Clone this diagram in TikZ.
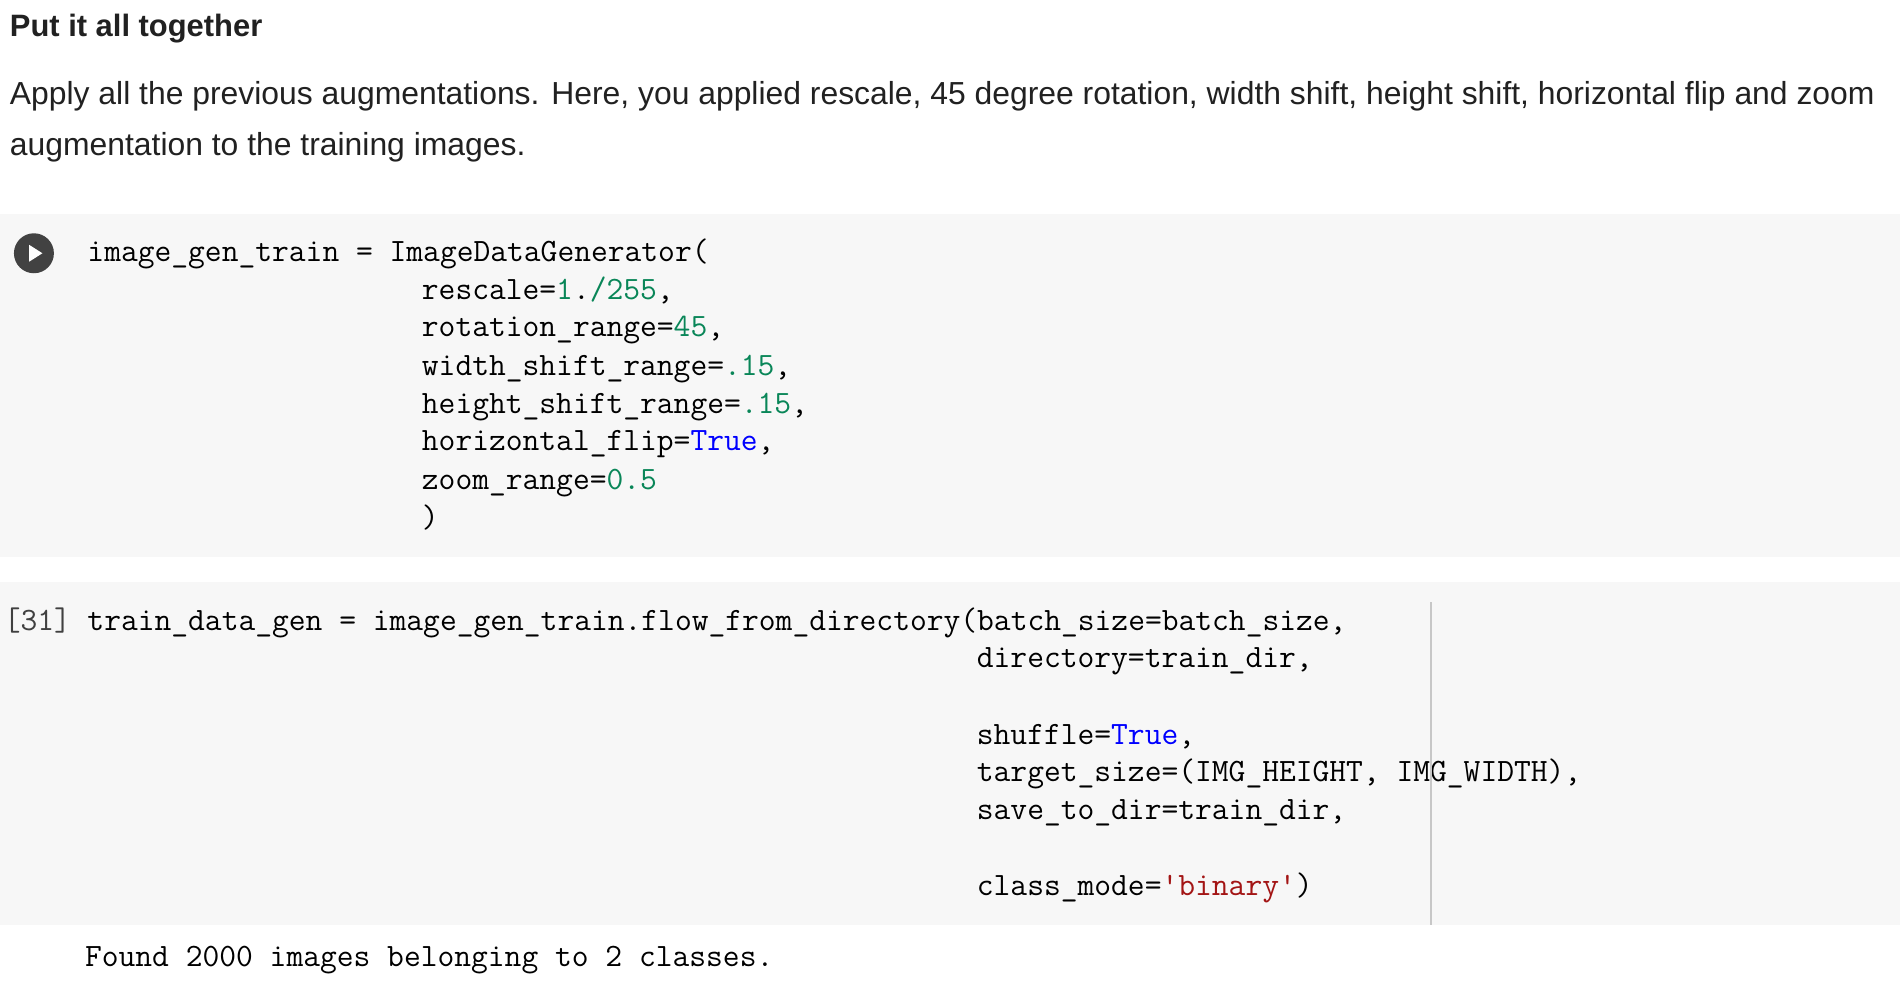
\documentclass[tikz,border=0pt]{standalone}
\usepackage{fontspec}
\usetikzlibrary{calc}
\setmainfont{Liberation Sans}
\definecolor{cellbg}{HTML}{F7F7F7}
\definecolor{num}{HTML}{098658}
\definecolor{kw}{HTML}{0000FF}
\definecolor{str}{HTML}{A31515}
\definecolor{playc}{HTML}{424242}
\newcommand{\N}[1]{\textcolor{num}{#1}}
\newcommand{\K}[1]{\textcolor{kw}{#1}}
\newcommand{\St}[1]{\textcolor{str}{#1}}
\begin{document}
\begin{tikzpicture}[x=1pt,y=-1pt,
  txt/.style={anchor=base west,inner sep=0pt,font=\fontsize{26.3}{30}\selectfont,text=black!87},
  code/.style={anchor=base west,inner sep=0pt,font=\ttfamily\fontsize{26.9}{28}\selectfont,text=black}]
\useasboundingbox (0,0) rectangle (1568,820);
\fill[white] (0,0) rectangle (1568,820);
\node[txt,font=\bfseries\fontsize{25.5}{30}\selectfont] (h) at (8,30) {Put it all together};
\node[txt] (p1) at (8,86) {Apply all the previous augmentations. Here, you applied rescale, 45 degree rotation, width shift, height shift, horizontal flip and zoom};
\node[txt] (p2) at (8,128) {augmentation to the training images.};
\fill[cellbg] (0,177) rectangle (1568,460);
\fill[cellbg] (0,480) rectangle (1568,763);
\node[circle,fill=playc,minimum size=33pt,inner sep=0pt] (play) at (28,209) {};
\fill[white] ($(play.center)+(-4,-7)$) -- ++(0,14) -- ++(11,-7) -- cycle;
\node[code] (c1) at (72,216) {image\_gen\_train = ImageDataGenerator(};
\node[code] (c2) at (348,247) {rescale=\N{1}.\N{/255},};
\node[code] (c3) at (348,278) {rotation\_range=\N{45},};
\node[code] (c4) at (348,310) {width\_shift\_range=\N{.15},};
\node[code] (c5) at (348,341) {height\_shift\_range=\N{.15},};
\node[code] (c6) at (348,372) {horizontal\_flip=\K{True},};
\node[code] (c7) at (348,404) {zoom\_range=\N{0.5}};
\node[code] (c8) at (348,435) {)};
\node[code,text=black!75] (lbl) at (3,520) {[31]};
\node[code] (d1) at (72,520) {train\_data\_gen = image\_gen\_train.flow\_from\_directory(batch\_size=batch\_size,};
\node[code] (d2) at (806,551) {directory=train\_dir,};
\node[code] (d3) at (806,614) {shuffle=\K{True},};
\node[code] (d4) at (806,645) {target\_size=(IMG\_HEIGHT, IMG\_WIDTH),};
\node[code] (d5) at (806,676) {save\_to\_dir=train\_dir,};
\node[code] (d6) at (806,739) {class\_mode=\St{'binary'})};
\draw[black!22,line width=1pt] (1181,497) -- (1181,763);
\node[code] (out) at (70,798) {Found 2000 images belonging to 2 classes.};
\end{tikzpicture}
\end{document}
